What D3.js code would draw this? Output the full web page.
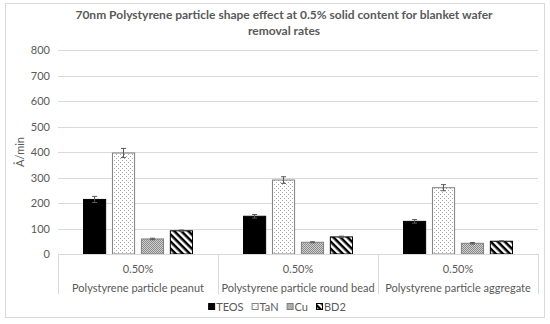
<!DOCTYPE html>
<html>
<head>
<meta charset="utf-8">
<script src="https://cdn.jsdelivr.net/npm/d3@7"></script>
<style>
  body { margin: 0; background: #fff; }
  svg { display: block; font-family: Lato, "Open Sans", sans-serif; }
</style>
</head>
<body>
<div id="chart"></div>
<script>
// chart data
const categories = ["Polystyrene particle peanut", "Polystyrene particle round bead", "Polystyrene particle aggregate"];
const subLabels = ["0.50%", "0.50%", "0.50%"];
const seriesNames = ["TEOS", "TaN", "Cu", "BD2"];
const teos = [214, 148, 128];
const tan = [396, 290, 260];
const cu = [59, 46, 42];
const bd2 = [91, 67, 50];
const teosErr = [12, 7, 7];
const tanErr = [18, 13, 12];
const cuErr = [3, 2, 3];
const bd2Err = [3, 3, 2];
const yTicks = [0, 100, 200, 300, 400, 500, 600, 700, 800];
const titleLines = ["70nm Polystyrene particle shape effect at 0.5% solid content for blanket wafer", "removal rates"];

const values = [teos, tan, cu, bd2];
const errors = [teosErr, tanErr, cuErr, bd2Err];
const textColor = "#595959";

const svg = d3.select("#chart").append("svg")
  .attr("width", 550)
  .attr("height", 324);

// fill patterns for each series
const defs = svg.append("defs");
const pTaN = defs.append("pattern").attr("id", "pTaN")
  .attr("patternUnits", "userSpaceOnUse").attr("width", 4).attr("height", 4);
pTaN.append("rect").attr("width", 4).attr("height", 4).attr("fill", "#fff");
pTaN.append("rect").attr("x", 0).attr("y", 0).attr("width", 1).attr("height", 1).attr("fill", "#a8a8a8");
pTaN.append("rect").attr("x", 2).attr("y", 2).attr("width", 1).attr("height", 1).attr("fill", "#a8a8a8");

const pCu = defs.append("pattern").attr("id", "pCu")
  .attr("patternUnits", "userSpaceOnUse").attr("width", 2).attr("height", 2);
pCu.append("rect").attr("width", 2).attr("height", 2).attr("fill", "#d0d0d0");
pCu.append("rect").attr("x", 0).attr("y", 0).attr("width", 1).attr("height", 1).attr("fill", "#8a8a8a");
pCu.append("rect").attr("x", 1).attr("y", 1).attr("width", 1).attr("height", 1).attr("fill", "#8a8a8a");

const pBD2 = defs.append("pattern").attr("id", "pBD2")
  .attr("patternUnits", "userSpaceOnUse").attr("width", 5).attr("height", 5)
  .attr("patternTransform", "rotate(45)");
pBD2.append("rect").attr("width", 5).attr("height", 5).attr("fill", "#fff");
pBD2.append("rect").attr("width", 5).attr("height", 2.5).attr("fill", "#000");

const fills = ["#000", "url(#pTaN)", "url(#pCu)", "url(#pBD2)"];
const strokes = ["#000", "#7f7f7f", "#7f7f7f", "#000"];

// chart border
svg.append("rect")
  .attr("x", 5.5).attr("y", 3.5).attr("width", 539).attr("height", 314)
  .attr("fill", "none").attr("stroke", "#d9d9d9");

// title
svg.append("g").selectAll("text")
  .data(titleLines)
  .join("text")
  .attr("x", 284)
  .attr("y", (d, i) => 19 + i * 16)
  .attr("text-anchor", "middle")
  .attr("font-size", 12)
  .attr("font-weight", "bold")
  .attr("fill", textColor)
  .text(d => d);

// scales
const x0 = d3.scaleBand().domain(categories).range([58, 538]);
const x1 = d3.scaleBand().domain(seriesNames).range([25, 135]).paddingInner(0.2);
const y = d3.scaleLinear().domain([0, 800]).range([254, 50]);

// gridlines
svg.append("g").selectAll("line")
  .data(yTicks.slice(1))
  .join("line")
  .attr("x1", 58).attr("x2", 538)
  .attr("y1", d => Math.round(y(d)) + 0.5).attr("y2", d => Math.round(y(d)) + 0.5)
  .attr("stroke", "#d9d9d9");

// y axis labels
const yAxis = svg.append("g")
  .attr("transform", "translate(50,0)")
  .call(d3.axisLeft(y).tickValues(yTicks).tickSize(0).tickPadding(0));
yAxis.select(".domain").remove();
yAxis.selectAll("text").attr("fill", textColor).attr("font-size", 11)
  .attr("font-family", "Lato, sans-serif");

svg.append("text")
  .attr("transform", "translate(24,152) rotate(-90)")
  .attr("text-anchor", "middle")
  .attr("font-size", 11)
  .attr("fill", textColor)
  .text("Å/min");

// bars
const groups = svg.append("g").selectAll("g")
  .data(categories)
  .join("g")
  .attr("transform", d => `translate(${x0(d)},0)`);

groups.each(function(cat, ci) {
  const g = d3.select(this);
  seriesNames.forEach((s, si) => {
    const v = values[si][ci];
    g.append("rect")
      .attr("x", x1(s) + 0.5)
      .attr("y", y(v))
      .attr("width", x1.bandwidth() - 1)
      .attr("height", y(0) - y(v))
      .attr("fill", fills[si])
      .attr("stroke", strokes[si])
      .attr("stroke-width", 1);
    const e = errors[si][ci];
    const cx = x1(s) + x1.bandwidth() / 2;
    const eb = g.append("g").attr("stroke", "#595959").attr("stroke-width", 1);
    eb.append("line").attr("x1", cx).attr("x2", cx).attr("y1", y(v - e)).attr("y2", y(v + e));
    eb.append("line").attr("x1", cx - 2.5).attr("x2", cx + 2.5).attr("y1", y(v + e)).attr("y2", y(v + e));
    eb.append("line").attr("x1", cx - 2.5).attr("x2", cx + 2.5).attr("y1", y(v - e)).attr("y2", y(v - e));
  });
});

// category axis: baseline, separators, two label rows
svg.append("line")
  .attr("x1", 58).attr("x2", 538).attr("y1", 254.5).attr("y2", 254.5)
  .attr("stroke", "#d9d9d9");
const bounds = categories.map(c => x0(c)).concat([538]);
svg.append("g").selectAll("line")
  .data(bounds)
  .join("line")
  .attr("x1", d => Math.round(d) + 0.5).attr("x2", d => Math.round(d) + 0.5)
  .attr("y1", 254).attr("y2", 294)
  .attr("stroke", "#d9d9d9");

svg.append("g").selectAll("text")
  .data(subLabels)
  .join("text")
  .attr("x", (d, i) => x0(categories[i]) + x0.bandwidth() / 2)
  .attr("y", 273)
  .attr("text-anchor", "middle")
  .attr("font-size", 11)
  .attr("fill", textColor)
  .text(d => d);

svg.append("g").selectAll("text")
  .data(categories)
  .join("text")
  .attr("x", d => x0(d) + x0.bandwidth() / 2)
  .attr("y", 292)
  .attr("text-anchor", "middle")
  .attr("font-size", 11)
  .attr("fill", textColor)
  .text(d => d);

// legend, laid out from measured text widths and centred
const legend = svg.append("g").attr("transform", "translate(0,303)");
const items = legend.selectAll("g")
  .data(seriesNames)
  .join("g");
items.append("rect")
  .attr("x", 0.5).attr("y", 0.5).attr("width", 6).attr("height", 6)
  .attr("fill", (d, i) => fills[i])
  .attr("stroke", (d, i) => strokes[i]);
items.append("text")
  .attr("x", 8).attr("y", 7.5)
  .attr("font-size", 11)
  .attr("fill", textColor)
  .text(d => d);
let pos = 0;
const offsets = [];
items.each(function() {
  offsets.push(pos);
  pos += 8 + this.querySelector("text").getComputedTextLength() + 8;
});
const total = pos - 8;
const start = 277 - total / 2;
items.attr("transform", (d, i) => `translate(${start + offsets[i]},0)`);
</script>
</body>
</html>
